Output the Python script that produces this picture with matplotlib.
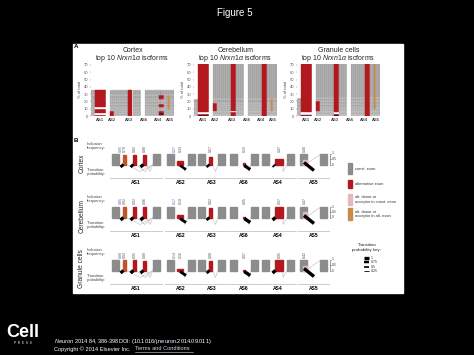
import numpy as np
import matplotlib
matplotlib.use("Agg")
import matplotlib.pyplot as plt
from matplotlib.patches import Rectangle

plt.rcParams['font.family'] = ['Liberation Sans', 'DejaVu Sans']
plt.rcParams['mathtext.fontset'] = 'custom'
plt.rcParams['mathtext.rm'] = 'Liberation Sans'
plt.rcParams['mathtext.it'] = 'Liberation Sans:italic'

W, H = 474, 355

# ---- panel A data ----
tissues = ["Cortex", "Cerebellum", "Granule cells"]
as_labels = ["AS1", "AS2", "AS3", "AS6", "AS4", "AS5"]
as_label_cols = [4.2, 10, 18.5, 25.5, 32.3, 38]
yticks = [0, 10, 20, 30, 40, 50, 60, 70]

# share of each of the top 10 isoforms (% of total), bottom to top
cortex_pct = [2, 2, 3, 3, 3, 3, 4, 4, 5, 6]
cereb_pct = [1.5, 1.5, 2, 2, 2, 3, 3, 3.5, 4.5, 49]
granule_pct = [1.5, 1.5, 2, 2, 2.5, 3, 3.5, 4, 5, 48]

# (number of columns, exon state per isoform bottom->top)
cortex_cols = [(2, "gggggggggg"), (5, "rwrrwrrrrr"), (2, "wwwwwwwwww"), (2, "rrrggggggg"),
               (7, "gggggggggg"), (2, "rrrrrrrrrr"), (4, "gggggggggg"), (2, "wwwwwwwwww"),
               (7, "gggggggggg"), (2, "gdrggrggrg"), (2, "gggggggggg"), (1, "ggggooooog"),
               (2, "gggggggggg")]
cereb_cols = [(2, "gggggggggw"), (5, "drwrrrrrrr"), (2, "wwwwwwwwww"), (2, "ggggrrrrgg"),
              (7, "gggggggggg"), (2, "rrrwrrrrrr"), (4, "gggggggggg"), (2, "wwwwwwwwww"),
              (7, "gggggggggg"), (2, "rrrrrrrrrr"), (2, "gggggggggg"), (1, "ggggooooog"),
              (2, "gggggggggg")]
granule_cols = [(2, "gggggggggw"), (5, "dpwrrrrrrr"), (2, "wwwwwwwwww"), (2, "ggggrrrrgg"),
                (7, "gggggggggg"), (2, "ddwrrrrrrr"), (4, "gggggggggg"), (2, "wwwwwwwwww"),
                (7, "gggggggggg"), (2, "rrrrrrrrrr"), (2, "gggggggggg"), (1, "gggggooooo"),
                (2, "gggggggggg")]

# ---- panel B data ----
incl = {
    "Cortex": [[0.85, 0.82, 0.88], [0.33], [0.67], [0.15], [0.47], [0.40]],
    "Cerebellum": [[0.92, 0.92, 0.96], [0.19], [0.82], [0.05], [0.97], [0.47]],
    "Granule cells": [[0.93, 0.95, 0.89], [0.16], [0.88], [0.07], [0.95], [0.42]],
}
incl_txt = {
    "Cortex": [["0.78", "0.82", "0.88"], ["0.33"], ["0.67"], ["0.15"], ["0.47"], ["0.40"]],
    "Cerebellum": [["0.92", "0.92", "0.96"], ["0.19"], ["0.82"], ["0.05"], ["0.97"], ["0.47"]],
    "Granule cells": [["0.93", "0.95", "0.89"], ["0.16"], ["0.88"], ["0.07"], ["0.95"], ["0.42"]],
}
blue_txt = {
    "Cortex": ["0.85", "0.27"],
    "Cerebellum": ["0.85", "0.17"],
    "Granule cells": ["0.88", "0.14"],
}
trans = {
    "Cortex": [[0.8, 0.8, 0.9], [0.7], [0.7], [0.9], [0.5], [0.9]],
    "Cerebellum": [[0.9, 0.9, 0.95], [0.8], [0.8], [0.95], [0.95], [0.95]],
    "Granule cells": [[0.9, 0.95, 0.9], [0.8], [0.85], [0.95], [0.95], [0.95]],
}
key_probs = [1, 0.75, 0.5, 0.25]
legend_items = ["const. exon", "alternative exon",
                "alt. donor or\nacceptor in const. exon",
                "alt. donor or\nacceptor in alt. exon"]

# ---- styling / layout ----
GREY = "#9a9a9a"
RED = "#b3181f"
DRED = "#5e0f14"
ORANGE = "#c98a4b"
PINK = "#e3b9bd"
LIGHT = "#d5d5d5"
cmap = {"g": GREY, "r": RED, "d": DRED, "w": "white", "o": ORANGE, "p": PINK, "l": LIGHT}


def fig_box(x0, y0, x1, y1):
    return [x0 / W, 1 - y1 / H, (x1 - x0) / W, (y1 - y0) / H]


fig = plt.figure(figsize=(W / 100, H / 100), dpi=100, facecolor="black")
bg = fig.add_axes([0, 0, 1, 1], zorder=0)
bg.set_xlim(0, W)
bg.set_ylim(H, 0)
bg.axis("off")
bg.set_facecolor("black")

bg.add_patch(Rectangle((73, 44), 330, 249, color="white", zorder=0))
bg.text(235, 12.5, "Figure 5", color="white", fontsize=7, ha="center", va="center")
bg.text(74, 47, "A", fontsize=4.5, fontweight="bold", ha="left", va="center")
bg.text(74, 141, "B", fontsize=4.5, fontweight="bold", ha="left", va="center")

# ---- panel A ----
panelA = [(91, cortex_pct, cortex_cols), (194, cereb_pct, cereb_cols), (297, granule_pct, granule_cols)]
for name, (x0, pct, cols) in zip(tissues, panelA):
    ax = fig.add_axes(fig_box(x0, 63.5, x0 + 83, 116), zorder=2)
    ax.set_facecolor("none")
    bottoms = np.concatenate([[0], np.cumsum(pct)[:-1]])
    c = 0
    for n, pattern in cols:
        for _ in range(n):
            for k, state in enumerate(pattern):
                col = cmap[state]
                ec = "#d0d0d0" if state in "gl" else col
                ax.bar(c + 0.5, pct[k], bottom=bottoms[k], width=1, color=col,
                       edgecolor=ec, linewidth=0.3)
            c += 1
    ax.set_xlim(0, c)
    ax.set_ylim(0, 72)
    ax.set_yticks(yticks)
    ax.tick_params(axis="y", labelsize=3, length=1, width=0.3, pad=1, colors="#555555")
    ax.set_xticks(as_label_cols)
    ax.set_xticklabels(as_labels, fontsize=3.2)
    ax.tick_params(axis="x", length=0, pad=1.5)
    for s in ax.spines.values():
        s.set_visible(False)
    ax.set_ylabel("% of total", fontsize=3, labelpad=1, color="#444444")
    xc = x0 + 41.5
    bg.text(xc, 50, name, fontsize=5, ha="center", va="center", color="#222222")
    bg.text(xc, 58.5, r"top 10 $\it{Nrxn1\alpha}$ isoforms", fontsize=5, ha="center",
            va="center", color="#222222")

# ---- panel B ----
EX_W, EX_H = 7, 11
# group layout: left const exon x, right const exon x, alt exon xs, alt width, line direction
b_layout = [
    (112, 153, [123, 133, 143], 3.5, -1),
    (167, 188, [177], 6, 1),
    (198, 218, [209], 3.5, -1),
    (230, 251, [243], 2.5, 1),
    (262, 287, [275], 8, -1),
    (300, 320, [], 0, 1),
]
row_y = [159, 212, 265]

for name, yc in zip(tissues, row_y):
    top, bot = yc - EX_H / 2, yc + EX_H / 2
    bg.text(82, yc + 4, name, rotation=90, fontsize=4.8, ha="center", va="center", color="#222222")
    bg.text(87, yc - 13, "Inclusion\nfrequency:", fontsize=2.9, ha="left", va="center",
            color="#444444", linespacing=1.2)
    bg.text(87, yc + 13, "Transition\nprobability:", fontsize=2.9, ha="left", va="center",
            color="#444444", linespacing=1.2)
    for gi, (xl, xr, alts, aw, d) in enumerate(b_layout):
        for x in (xl, xr):
            bg.add_patch(Rectangle((x, top), EX_W, EX_H, color="#8c8c8c", zorder=2))
        bg.plot([xl - 2, xr + EX_W + 2], [yc + 19, yc + 19], color="#c4c4c4", lw=0.6)
        bg.text((xl + xr + EX_W) / 2, yc + 23.5, as_labels[gi], fontsize=3.6,
                fontweight="bold", ha="center", va="center")
        for k, xa in enumerate(alts):
            f = incl[name][gi][k]
            p = trans[name][gi][k]
            fc = "#c0532a" if (gi == 0 and k == 0) else RED
            bg.add_patch(Rectangle((xa, bot - f * EX_H), aw, f * EX_H, color=fc, zorder=3))
            bg.text(xa + aw / 2 + 0.5, top - 2, incl_txt[name][gi][k], rotation=90,
                    fontsize=2.6, ha="center", va="bottom", color="#555555")
            # skip path (thin) and transition (thick)
            bg.plot([xa + aw, (xa + xr) / 2 + 2, xr], [bot, bot + 7, bot],
                    color="#b0b0b0", lw=0.35, zorder=1)
            if d < 0:
                bg.plot([xa + 0.5, xa - 2.5], [bot, bot + 2.5], color="black",
                        lw=2.6 * p, solid_capstyle="butt", zorder=4)
            else:
                bg.plot([xa + aw / 2, xa + aw / 2 + 6], [bot + 1, bot + 5], color="black",
                        lw=2.6 * p, solid_capstyle="butt", zorder=4)
        if gi in (0, 1):
            xa = alts[0]
            bg.text(xa - 1.8, top - 2, blue_txt[name][gi], rotation=90, fontsize=2.6,
                    ha="center", va="bottom", color="#5560b0")
        if gi == 5:
            f = incl[name][gi][0]
            p = trans[name][gi][0]
            bg.add_patch(Rectangle((xl + 3.5, bot - f * EX_H), 3.5, f * EX_H, color=PINK, zorder=3))
            bg.text(xl + 5, top - 2, incl_txt[name][gi][0], rotation=90,
                    fontsize=2.6, ha="center", va="bottom", color="#555555")
            bg.plot([xl + 4, xl + 14], [bot - 2, bot + 6], color="black",
                    lw=2.6 * p, solid_capstyle="butt", zorder=4)
            bg.plot([xl + EX_W, xr], [bot - 1, top + 1], color="#b0b0b0", lw=0.35, zorder=1)
    # scale bracket
    bg.plot([331, 330, 330, 331], [top, top, bot, bot], color="#555555", lw=0.4)
    bg.plot([330, 331], [yc, yc], color="#555555", lw=0.4)
    for v, yy in zip(["1", "0.5", "0"], [top, yc, bot]):
        bg.text(332, yy, v, fontsize=2.5, ha="left", va="center", color="#444444")

# legend
leg_boxes = [(163, 174, "#8c8c8c"), (180, 188, RED), (194, 205, PINK), (208, 220, ORANGE)]
for (y0, y1, col), lab in zip(leg_boxes, legend_items):
    bg.add_patch(Rectangle((348, y0), 4, y1 - y0, color=col))
    bg.text(355, (y0 + y1) / 2, lab, fontsize=2.9, ha="left", va="center",
            color="#333333", linespacing=1.3)

bg.text(367, 247.5, "Transition\nprobability key:", fontsize=3.2, ha="center", va="center",
        color="#222222", linespacing=1.3)
for i, p in enumerate(key_probs):
    yy = 258 + i * 4.4
    bg.plot([364, 369], [yy, yy], color="black", lw=2.4 * p, solid_capstyle="butt")
    bg.text(370.5, yy, str(p), fontsize=2.6, ha="left", va="center", color="#333333")

# footer
bg.text(6.5, 337, "Cell", color="white", fontsize=13, fontweight="bold", ha="left",
        va="baseline")
bg.text(22.5, 343, "P  R  E  S  S", color="white", fontsize=2.3, ha="center", va="center")
bg.text(54, 341, r"$\it{Neuron}$ 2014 84, 386-398DOI: (10.1016/j.neuron.2014.09.011)",
        color="white", fontsize=4.1, ha="left", va="center")
bg.text(54, 349, "Copyright © 2014 Elsevier Inc.", color="white", fontsize=4.1,
        ha="left", va="center")
bg.text(135.5, 349, "Terms and Conditions", color="#d8d8f0", fontsize=4.1, ha="left",
        va="center")
bg.plot([135.5, 193], [351.8, 351.8], color="#d8d8f0", lw=0.4)

fig.savefig("out.png", dpi=100, facecolor="black")
